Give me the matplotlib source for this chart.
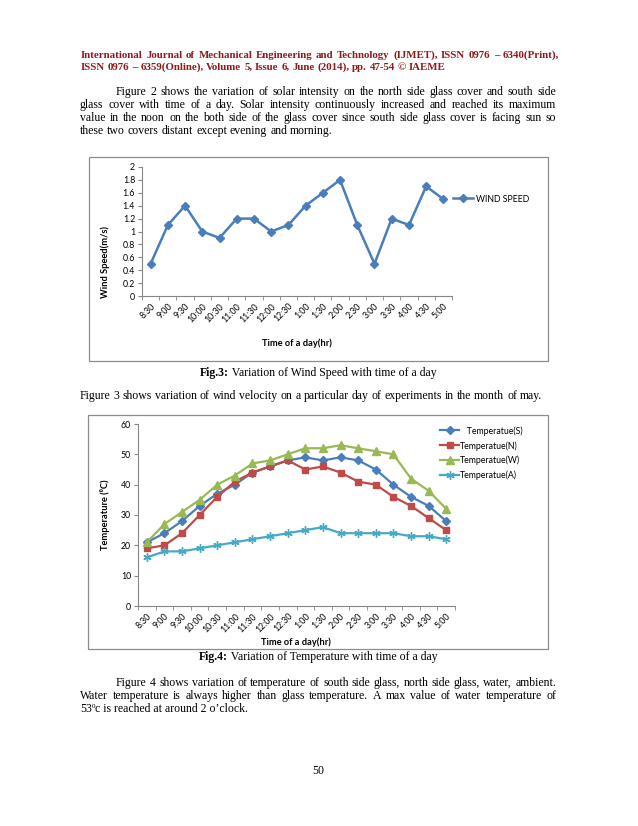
import numpy as np
import matplotlib
matplotlib.use("Agg")
import matplotlib.pyplot as plt
from matplotlib.patches import Rectangle

W, H = 638, 826

times = ["8:30", "9:00", "9:30", "10:00", "10:30", "11:00", "11:30", "12:00", "12:30",
         "1:00", "1:30", "2:00", "2:30", "3:00", "3:30", "4:00", "4:30", "5:00"]
wind_speed = [0.5, 1.1, 1.4, 1.0, 0.9, 1.2, 1.2, 1.0, 1.1,
              1.4, 1.6, 1.8, 1.1, 0.5, 1.2, 1.1, 1.7, 1.5]
temp_s = [21, 24, 28, 33, 37, 40, 44, 46, 48, 49, 48, 49, 48, 45, 40, 36, 33, 28]
temp_n = [19, 20, 24, 30, 36, 41, 44, 46, 48, 45, 46, 44, 41, 40, 36, 33, 29, 25]
temp_w = [21, 27, 31, 35, 40, 43, 47, 48, 50, 52, 52, 53, 52, 51, 50, 42, 38, 32]
temp_a = [16, 18, 18, 19, 20, 21, 22, 23, 24, 25, 26, 24, 24, 24, 24, 23, 23, 22]

SERIF = "Liberation Serif"
SANS = "Lato"
RED_HEAD = "#8e1a1a"
BODY = 8.5
HEAD = 7.85
TICK = 6.3

fig = plt.figure(figsize=(W / 100, H / 100), dpi=100)
bg = fig.add_axes([0, 0, 1, 1])
bg.set_xlim(0, W)
bg.set_ylim(H, 0)
bg.axis("off")
rend = fig.canvas.get_renderer()


def width_of(t):
    return t.get_window_extent(rend).width


def put_line(y, x0, x1, text, justify=True, **kw):
    words = text.split(" ")
    ts = [bg.text(0, y, w, va="baseline", **kw) for w in words]
    ws = [width_of(t) for t in ts]
    probe = bg.text(0, y, "a a", **kw)
    probe2 = bg.text(0, y, "aa", **kw)
    space = width_of(probe) - width_of(probe2)
    probe.remove()
    probe2.remove()
    gap = (x1 - x0 - sum(ws)) / (len(words) - 1) if justify and len(words) > 1 else space
    x = x0
    for t, w in zip(ts, ws):
        t.set_x(x)
        x += w + gap


def put_runs(x, y, runs, center=False):
    # runs: (text, dict of text kwargs, dy)
    ts = []
    for txt, kw, dy in runs:
        ts.append((bg.text(0, y - dy, txt, va="baseline", **kw), dy))
    ws = [width_of(t) for t, _ in ts]
    if center:
        x = x - sum(ws) / 2
    for (t, _), w in zip(ts, ws):
        t.set_x(x)
        x += w


body = dict(family=SERIF, fontsize=BODY, color="black")
head = dict(family=SERIF, fontsize=HEAD, color=RED_HEAD, fontweight="bold")

# header
put_line(58, 81, 559, "International Journal of Mechanical Engineering and Technology (IJMET), "
         "ISSN 0976 \u2013 6340(Print),", True, **head)
put_line(70, 81, 559, "ISSN 0976 \u2013 6359(Online), Volume 5, Issue 6, June (2014), pp. 47-54 \u00a9 IAEME",
         False, **head)

# paragraph about figure 2
put_line(95, 116, 556, "Figure 2 shows the variation of solar intensity on the north side glass cover and south side", **body)
put_line(108, 80, 556, "glass cover with time of a day. Solar intensity continuously increased and reached its maximum", **body)
put_line(121, 80, 556, "value in the noon on the both side of the glass cover since south side glass cover is facing sun so", **body)
put_line(134, 80, 556, "these two covers distant except evening and morning.", False, **body)

# captions and paragraphs
bold_body = dict(body, fontweight="bold")
put_runs(318, 376, [("Fig.3:", bold_body, 0), (" Variation of Wind Speed with time of a day", body, 0)], center=True)
put_line(399, 80, 556, "Figure 3 shows variation of wind velocity on a particular day of experiments in the month of may.",
         False, **body)
put_runs(318, 660, [("Fig.4:", bold_body, 0), (" Variation of Temperature with time of a day", body, 0)], center=True)
put_line(686, 116, 556, "Figure 4 shows variation of temperature of south side glass, north side glass, water, ambient.", **body)
put_line(699, 80, 556, "Water temperature is always higher than glass temperature. A max value of water temperature of", **body)
put_runs(80, 712, [("53", body, 0), ("0", dict(body, fontsize=BODY * 0.6), 4),
                   ("c is reached at around 2 o\u2019clock.", body, 0)])
bg.text(318, 774, "50", ha="center", va="baseline", **body)

# chart frames
for x0, y0, x1, y1 in [(89, 157, 548, 361), (88, 415, 548, 649)]:
    bg.add_patch(Rectangle((x0, y0), x1 - x0, y1 - y0, fill=False, edgecolor="#8c8c8c", lw=0.9))


def style_axes(ax, ymax, step):
    ax.set_xlim(-0.5, len(times) - 0.5)
    ax.set_ylim(0, ymax)
    for s in ["top", "right"]:
        ax.spines[s].set_visible(False)
    for s in ["left", "bottom"]:
        ax.spines[s].set_color("#868686")
        ax.spines[s].set_linewidth(0.8)
    yt = np.arange(0, ymax + step / 2, step)
    ax.set_yticks(yt)
    ax.set_yticklabels([f"{v:g}" for v in yt], family=SANS, fontsize=TICK)
    ax.set_xticks(range(len(times)))
    ax.set_xticklabels(times, rotation=45, ha="right", va="top", rotation_mode="anchor",
                       family=SANS, fontsize=TICK)
    ax.set_xticks(np.arange(-0.5, len(times), 1), minor=True)
    ax.tick_params(axis="x", which="major", length=0, pad=4)
    ax.tick_params(axis="x", which="minor", length=3, color="#868686", direction="out")
    ax.tick_params(axis="y", length=3, color="#868686", direction="out", pad=2)
    ax.patch.set_alpha(0)


x = np.arange(len(times))
lab = dict(family=SANS, fontsize=TICK + 0.4, fontweight="bold")

# Fig.3 wind speed
ax1 = fig.add_axes([142 / W, 1 - 296 / H, 310 / W, 129 / H])
ax1.plot(x, wind_speed, color="#4A7EBB", lw=1.8, marker="D", ms=4.5, label="WIND SPEED")
style_axes(ax1, 2, 0.2)
ax1.legend(loc="center left", bbox_to_anchor=(453 / W, 1 - 199 / H), bbox_transform=fig.transFigure,
           frameon=False, handlelength=2.3, handletextpad=0.3, borderpad=0, borderaxespad=0,
           prop=dict(family=SANS, size=TICK))
bg.text(105, 262, "Wind Speed(m/s)", rotation=90, ha="center", va="center", **lab)
bg.text(297, 343, "Time of a day(hr)", ha="center", va="center", **lab)

# Fig.4 temperatures
ax2 = fig.add_axes([138 / W, 1 - 606 / H, 317 / W, 182 / H])
ax2.plot(x, temp_s, color="#4A7EBB", lw=1.6, marker="D", ms=4.5, label="   Temperatue(S)")
ax2.plot(x, temp_n, color="#BE4B48", lw=1.6, marker="s", ms=5.0, label="Temperatue(N)")
ax2.plot(x, temp_w, color="#98B954", lw=1.6, marker="^", ms=5.5, label="Temperatue(W)")
ax2.plot(x, temp_a, color="#46AAC5", lw=1.6, marker=(6, 2, 0), ms=6, mew=1.0, label="Temperatue(A)")
style_axes(ax2, 60, 10)
ax2.legend(loc="upper left", bbox_to_anchor=(440 / W, 1 - 426 / H), bbox_transform=fig.transFigure,
           frameon=False, handlelength=2.2, handletextpad=0.1, borderpad=0, borderaxespad=0,
           labelspacing=0.62, prop=dict(family=SANS, size=TICK))
bg.text(105, 515, "Temperature (\u2070C)", rotation=90, ha="center", va="center",
        **dict(lab, family=[SANS, "DejaVu Sans"]))
bg.text(296, 642, "Time of a day(hr)", ha="center", va="center", **lab)

fig.savefig("out.png", dpi=100)
